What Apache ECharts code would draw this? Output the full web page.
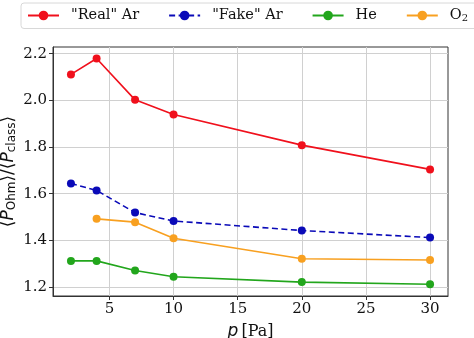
<!DOCTYPE html>
<html>
<head>
<meta charset="utf-8">
<script src="https://cdn.jsdelivr.net/npm/echarts@6/dist/echarts.min.js"></script>
<style>
  html, body { margin: 0; padding: 0; background: #fff; }
  #chart { width: 474px; height: 338px; }
</style>
</head>
<body>
<div id="chart"></div>
<script>
// Pressure values (Pa) and power ratio per gas model
const pressureReal = [2, 4, 7, 10, 20, 30];
const ratioReal = [2.111, 2.179, 2.002, 1.939, 1.808, 1.704];

const pressureFake = [2, 4, 7, 10, 20, 30];
const ratioFake = [1.644, 1.614, 1.519, 1.483, 1.442, 1.412];

const pressureHe = [2, 4, 7, 10, 20, 30];
const ratioHe = [1.312, 1.312, 1.271, 1.244, 1.221, 1.212];

const pressureO2 = [4, 7, 10, 20, 30];
const ratioO2 = [1.492, 1.478, 1.409, 1.321, 1.316];

const xTicks = [5, 10, 15, 20, 25, 30];
const yTicks = [1.2, 1.4, 1.6, 1.8, 2.0, 2.2];

const seriesNames = ['"Real" Ar', '"Fake" Ar', 'He', 'O2'];

const pairs = (xs, ys) => xs.map((x, i) => [x, ys[i]]);

const serif = '"DejaVu Serif", serif';
const sans = '"DejaVu Sans", sans-serif';

function mkSeries(name, data, color, dashed) {
  return {
    name: name,
    type: 'line',
    data: data,
    symbol: 'circle',
    symbolSize: 8,
    itemStyle: { color: color },
    lineStyle: { color: color, width: 1.6, type: dashed ? [6, 3.5] : 'solid' },
    emphasis: { disabled: true },
    animation: false
  };
}

const chart = echarts.init(document.getElementById('chart'));
chart.setOption({
  animation: false,
  grid: {
    left: 53, right: 26, top: 47, bottom: 42,
    outerBoundsMode: 'none',
    containLabel: false,
    show: true, borderColor: '#333', borderWidth: 1
  },
  legend: {
    left: 21, top: 3,
    width: 600,
    padding: [5, 10, 5, 6],
    itemGap: 29,
    itemWidth: 31,
    itemHeight: 12,
    borderColor: '#d8d8d8',
    borderWidth: 1,
    borderRadius: 3,
    backgroundColor: '#fff',
    data: seriesNames,
    formatter: function (n) {
      return n === 'O2' ? '{t|O}{s|2}' : '{t|' + n + '}';
    },
    textStyle: {
      fontFamily: serif,
      fontSize: 14.5,
      padding: [0, 0, 0, 7],
      rich: {
        t: { fontFamily: serif, fontSize: 14.5, color: '#111' },
        s: { fontFamily: serif, fontSize: 10, color: '#111', verticalAlign: 'bottom', padding: [6, 0, 0, 0] }
      }
    }
  },
  xAxis: {
    type: 'value',
    min: 0.6, max: 31.4,
    name: '{i|p} {t|[Pa]}',
    nameLocation: 'middle',
    nameGap: 27,
    nameMoveOverlap: false,
    nameTextStyle: {
      rich: {
        i: { fontFamily: sans, fontStyle: 'italic', fontSize: 17, color: '#111' },
        t: { fontFamily: serif, fontSize: 16, color: '#111' }
      }
    },
    axisLine: { show: true, onZero: false, lineStyle: { color: '#333', width: 1 } },
    axisTick: { show: true, inside: false, length: 4, customValues: xTicks, lineStyle: { color: '#333' } },
    axisLabel: { customValues: xTicks, fontFamily: serif, fontSize: 15, color: '#111', margin: 6 },
    splitLine: { show: true, customValues: xTicks, lineStyle: { color: '#d0d0d0', width: 1 } }
  },
  yAxis: {
    type: 'value',
    min: 1.1615, max: 2.2285,
    name: '{t|⟨}{i|P}{s|Ohm}{t|⟩/⟨}{i|P}{s|class}{t|⟩}',
    nameLocation: 'middle',
    nameGap: 35,
    nameRotate: 90,
    nameMoveOverlap: false,
    nameTextStyle: {
      rich: {
        t: { fontFamily: sans, fontSize: 17, color: '#111' },
        i: { fontFamily: sans, fontStyle: 'italic', fontSize: 17, color: '#111' },
        s: { fontFamily: sans, fontSize: 12, color: '#111', verticalAlign: 'bottom', padding: [7, 0, 0, 0] }
      }
    },
    axisLine: { show: true, onZero: false, lineStyle: { color: '#333', width: 1 } },
    axisTick: { show: true, inside: false, length: 4, customValues: yTicks, lineStyle: { color: '#333' } },
    axisLabel: {
      customValues: yTicks, fontFamily: serif, fontSize: 15, color: '#111', margin: 6,
      formatter: v => v.toFixed(1)
    },
    splitLine: { show: true, customValues: yTicks, lineStyle: { color: '#d0d0d0', width: 1 } }
  },
  series: [
    mkSeries(seriesNames[0], pairs(pressureReal, ratioReal), '#f0101c', false),
    mkSeries(seriesNames[1], pairs(pressureFake, ratioFake), '#0a0ab8', true),
    mkSeries(seriesNames[2], pairs(pressureHe, ratioHe), '#22a61c', false),
    mkSeries(seriesNames[3], pairs(pressureO2, ratioO2), '#f8a020', false)
  ]
});
</script>
</body>
</html>
